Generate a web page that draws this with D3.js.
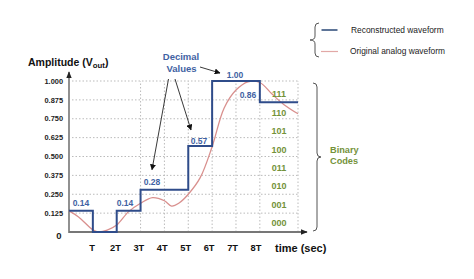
<!DOCTYPE html>
<html><head><meta charset="utf-8">
<script src="https://cdn.jsdelivr.net/npm/d3@7"></script>
<style>body{margin:0;background:#fff}svg{display:block;font-family:"Liberation Sans",Arial,sans-serif}</style>
</head><body><svg id="c" width="474" height="279"></svg>
<script>
// ---- data ----
const timeLabels = ["T","2T","3T","4T","5T","6T","7T","8T"];
const yTicks = [0.125,0.25,0.375,0.5,0.625,0.75,0.875,1.0];
const stepStarts = [0,1,2,3,4,5,6,7,8];
const stepValues = [0.14,0,0.14,0.28,0.28,0.57,1.00,1.00,0.86];
const stepEnd = 9.6;
const valueLabels = ["0.14","0.14","0.28","0.57","1.00","0.86"];
const binaryCodes = ["000","001","010","011","100","101","110","111"];
const analogT = [0,0.4,1.0,1.25,1.6,2.0,2.5,3.0,3.5,4.0,4.3,4.6,5.0,5.5,6.0,6.5,7.0,7.5,8.0,8.5,9.0,9.6];
const analogV = [0.14,0.10,0.015,0.0,0.012,0.046,0.135,0.19,0.228,0.207,0.172,0.19,0.25,0.36,0.565,0.82,0.94,0.995,0.99,0.915,0.845,0.783];

// ---- layout ----
const svg = d3.select("#c");
const x = d3.scaleLinear().domain([0, stepEnd]).range([69, 298]);
const y = d3.scaleLinear().domain([0, 1]).range([232, 81]);
const xl = d3.scaleLinear().domain([1, 8]).range([92, 256]);
const BLUE = "#2F4C8A", LBLUE = "#3F62A3", GREEN = "#74923A", PINK = "#D9908E", GRID = "#BBBBBB";

const defs = svg.append("defs");
defs.append("marker").attr("id","ah").attr("viewBox","0 0 10 10").attr("refX",9).attr("refY",5)
  .attr("markerWidth",6).attr("markerHeight",6).attr("orient","auto-start-reverse").attr("markerUnits","userSpaceOnUse")
  .append("path").attr("d","M0,0L10,5L0,10z").attr("fill","#111");
defs.append("marker").attr("id","ah2").attr("viewBox","0 0 10 10").attr("refX",9).attr("refY",5)
  .attr("markerWidth",7).attr("markerHeight",7).attr("orient","auto").attr("markerUnits","userSpaceOnUse")
  .append("path").attr("d","M0,1L10,5L0,9z").attr("fill","#222");

// grid
const g = svg.append("g");
g.selectAll(".hg").data(yTicks).join("line")
  .attr("x1", x(0)+3).attr("x2", x(stepEnd)).attr("y1", d=>y(d)).attr("y2", d=>y(d))
  .attr("stroke", GRID).attr("stroke-width",1).attr("stroke-dasharray","1.5,2");
g.selectAll(".vg").data([3,4,5,6,7,8,stepEnd]).join("line")
  .attr("x1", d=>x(d)).attr("x2", d=>x(d)).attr("y1", y(0)).attr("y2", y(1))
  .attr("stroke", GRID).attr("stroke-width",1).attr("stroke-dasharray","1.5,2");

// axes
svg.append("line").attr("x1",x(0)).attr("x2",x(0)).attr("y1",y(0)+1).attr("y2",72)
  .attr("stroke","#555").attr("stroke-width",1.3).attr("marker-end","url(#ah2)");
svg.append("line").attr("x1",x(0)).attr("x2",307).attr("y1",y(0)).attr("y2",y(0))
  .attr("stroke","#777").attr("stroke-width",1.8).attr("marker-end","url(#ah2)");

// y tick labels
svg.selectAll(".yt").data(yTicks).join("text")
  .attr("x",63).attr("y",d=>y(d)).attr("dy","0.36em").attr("text-anchor","end")
  .attr("font-size","7.4px").attr("font-weight","bold").attr("fill","#222")
  .text(d=>d3.format(".3f")(d));
svg.append("text").attr("x",59).attr("y",y(0)+4).attr("dy","0.36em").attr("text-anchor","middle")
  .attr("font-size","9.5px").attr("font-weight","bold").attr("fill","#222").text("0");

// x tick labels
svg.selectAll(".xt").data(timeLabels).join("text")
  .attr("x",(d,i)=>xl(i+1)).attr("y",247.5).attr("dy","0.36em").attr("text-anchor","middle")
  .attr("font-size","9.3px").attr("font-weight","bold").attr("fill","#111").text(d=>d);
svg.append("text").attr("x",275).attr("y",248.5).attr("dy","0.36em")
  .attr("font-size","11px").attr("font-weight","bold").attr("fill","#111").text("time (sec)");

// y title
const yt = svg.append("text").attr("x",28).attr("y",65.5).attr("font-size","10.5px").attr("font-weight","bold").attr("fill","#111");
yt.append("tspan").text("Amplitude (V");
yt.append("tspan").attr("font-size","7.8px").attr("dy",2.5).text("out");
yt.append("tspan").attr("dy",-2.5).text(")");

// analog waveform
svg.append("path").datum(analogT.map((t,i)=>[t,analogV[i]]))
  .attr("d", d3.line().x(d=>x(d[0])).y(d=>y(d[1])).curve(d3.curveCatmullRom.alpha(0.5)))
  .attr("fill","none").attr("stroke",PINK).attr("stroke-width",1.3);

// reconstructed step waveform
const stepPts = stepStarts.map((t,i)=>[t,stepValues[i]]);
stepPts.push([stepEnd, stepValues[stepValues.length-1]]);
svg.append("path").datum(stepPts)
  .attr("d", d3.line().x(d=>x(d[0])).y(d=>y(d[1])).curve(d3.curveStepAfter))
  .attr("fill","none").attr("stroke",BLUE).attr("stroke-width",2);

// value labels (anchors in time units and pixel offsets)
const labAnchor = [[0.5,0.14,-7.5],[2.35,0.14,-7.5],[3.48,0.28,-7.5],[5.45,0.57,-5],[6.96,1.0,-6.5],[7.5,0.86,-7]];
svg.selectAll(".vl").data(valueLabels).join("text")
  .attr("x",(d,i)=>x(labAnchor[i][0])).attr("y",(d,i)=>y(labAnchor[i][1])+labAnchor[i][2]).attr("dy","0.36em")
  .attr("text-anchor","middle").attr("font-size","8.5px").attr("font-weight","bold").attr("fill",LBLUE).text(d=>d);

// Decimal Values annotation
svg.append("text").attr("x",181).attr("y",56.7).attr("dy","0.36em").attr("text-anchor","middle")
  .attr("font-size","9.5px").attr("font-weight","bold").attr("fill",LBLUE).text("Decimal");
svg.append("text").attr("x",181.5).attr("y",68.3).attr("dy","0.36em").attr("text-anchor","middle")
  .attr("font-size","9.5px").attr("font-weight","bold").attr("fill",LBLUE).text("Values");
const arrows = [
  [200,67, x(labAnchor[4][0])-15, y(1.0)-8],
  [168.5,79, x(labAnchor[2][0]), y(0.28)-20],
  [175,79, x(labAnchor[3][0])-8, y(0.57)-16]
];
svg.selectAll(".ar").data(arrows).join("line")
  .attr("x1",d=>d[0]).attr("y1",d=>d[1]).attr("x2",d=>d[2]).attr("y2",d=>d[3])
  .attr("stroke","#222").attr("stroke-width",0.9).attr("marker-end","url(#ah)");

// binary codes
svg.selectAll(".bc").data(binaryCodes).join("text")
  .attr("x",279).attr("y",(d,i)=>y((i+0.5)/8)+0.4+i*0.45).attr("dy","0.36em").attr("text-anchor","middle")
  .attr("font-size","9px").attr("font-weight","bold").attr("fill",GREEN).text(d=>d);

// braces
function brace(xv, y0, y1, dir, tip, r){
  const ym = (y0+y1)/2;
  return `M${xv - dir*r},${y0} Q${xv},${y0} ${xv},${y0+r} L${xv},${ym-r} Q${xv},${ym} ${xv+dir*tip},${ym} Q${xv},${ym} ${xv},${ym+r} L${xv},${y1-r} Q${xv},${y1} ${xv-dir*r},${y1}`;
}
svg.append("path").attr("d",brace(317,83,231,1,4,4)).attr("fill","none").attr("stroke","#555").attr("stroke-width",1);
svg.append("text").attr("x",330).attr("y",149.3).attr("dy","0.36em").attr("font-size","9.2px").attr("font-weight","bold").attr("fill",GREEN).text("Binary");
svg.append("text").attr("x",330).attr("y",161).attr("dy","0.36em").attr("font-size","9.2px").attr("font-weight","bold").attr("fill",GREEN).text("Codes");

// legend
svg.append("path").attr("d",brace(315,23,57,-1,5,4)).attr("fill","none").attr("stroke","#555").attr("stroke-width",1);
svg.append("line").attr("x1",321.5).attr("x2",337.5).attr("y1",30).attr("y2",30).attr("stroke","#5E7598").attr("stroke-width",2);
svg.append("line").attr("x1",321).attr("x2",338).attr("y1",51.5).attr("y2",51.5).attr("stroke","#E2A8A6").attr("stroke-width",1.2);
svg.append("text").attr("x",351).attr("y",30).attr("dy","0.36em").attr("font-size","8.4px").attr("fill","#222").text("Reconstructed waveform");
svg.append("text").attr("x",350).attr("y",50.5).attr("dy","0.36em").attr("font-size","8.4px").attr("fill","#222").text("Original analog waveform");
</script></body></html>
